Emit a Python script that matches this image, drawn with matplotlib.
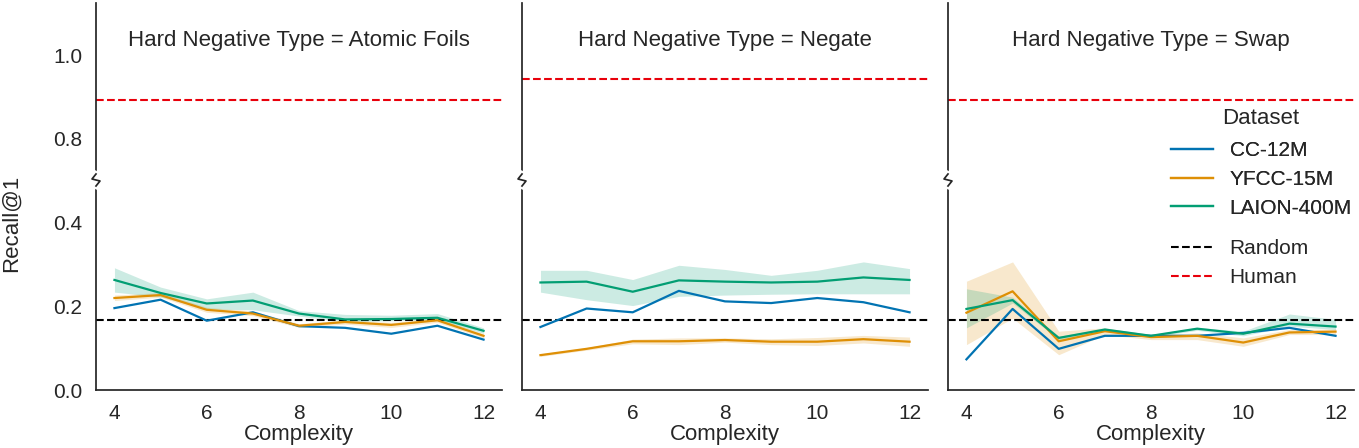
import matplotlib
matplotlib.use("Agg")
from matplotlib import pyplot as plt
from matplotlib.lines import Line2D

plt.rcParams['font.family'] = ['Liberation Sans', 'DejaVu Sans']
plt.rcParams['font.size'] = 15

complexity = [4, 5, 6, 7, 8, 9, 10, 11, 12]
panels = ["Atomic Foils", "Negate", "Swap"]
datasets = ["CC-12M", "YFCC-15M", "LAION-400M"]
colors = ["#0173b2", "#de8f05", "#029e73"]

# Atomic Foils
af_cc = [0.195, 0.215, 0.165, 0.185, 0.152, 0.148, 0.134, 0.153, 0.120]
af_yfcc = [0.219, 0.226, 0.191, 0.182, 0.153, 0.162, 0.155, 0.166, 0.129]
af_yfcc_lo = [0.213, 0.221, 0.185, 0.177, 0.149, 0.157, 0.149, 0.161, 0.124]
af_yfcc_hi = [0.226, 0.232, 0.197, 0.188, 0.158, 0.167, 0.161, 0.171, 0.134]
af_laion = [0.262, 0.231, 0.206, 0.213, 0.182, 0.168, 0.169, 0.172, 0.141]
af_laion_lo = [0.233, 0.222, 0.193, 0.191, 0.176, 0.163, 0.165, 0.167, 0.135]
af_laion_hi = [0.291, 0.245, 0.217, 0.233, 0.189, 0.180, 0.178, 0.182, 0.148]

# Negate
ng_cc = [0.150, 0.194, 0.185, 0.236, 0.211, 0.207, 0.219, 0.209, 0.185]
ng_yfcc = [0.083, 0.098, 0.116, 0.116, 0.119, 0.115, 0.115, 0.121, 0.115]
ng_yfcc_lo = [0.080, 0.095, 0.110, 0.108, 0.114, 0.108, 0.106, 0.112, 0.104]
ng_yfcc_hi = [0.086, 0.101, 0.121, 0.124, 0.124, 0.122, 0.125, 0.130, 0.126]
ng_laion = [0.256, 0.258, 0.234, 0.261, 0.258, 0.256, 0.258, 0.268, 0.262]
ng_laion_lo = [0.233, 0.215, 0.201, 0.223, 0.226, 0.228, 0.229, 0.229, 0.229]
ng_laion_hi = [0.285, 0.285, 0.263, 0.297, 0.287, 0.273, 0.285, 0.305, 0.289]

# Swap
sw_cc = [0.073, 0.193, 0.098, 0.129, 0.129, 0.129, 0.136, 0.148, 0.129]
sw_yfcc = [0.184, 0.235, 0.116, 0.140, 0.126, 0.129, 0.113, 0.137, 0.139]
sw_yfcc_lo = [0.108, 0.171, 0.084, 0.132, 0.120, 0.120, 0.104, 0.132, 0.132]
sw_yfcc_hi = [0.259, 0.305, 0.140, 0.148, 0.132, 0.136, 0.124, 0.144, 0.145]
sw_laion = [0.193, 0.214, 0.124, 0.144, 0.129, 0.146, 0.134, 0.158, 0.151]
sw_laion_lo = [0.148, 0.207, 0.120, 0.141, 0.126, 0.142, 0.129, 0.152, 0.144]
sw_laion_hi = [0.241, 0.221, 0.128, 0.147, 0.132, 0.149, 0.140, 0.181, 0.168]

human = [0.892, 0.942, 0.892]
random_chance = 1 / 6

lines = [
    [af_cc, af_yfcc, af_laion],
    [ng_cc, ng_yfcc, ng_laion],
    [sw_cc, sw_yfcc, sw_laion],
]
bands = [
    [None, (af_yfcc_lo, af_yfcc_hi), (af_laion_lo, af_laion_hi)],
    [None, (ng_yfcc_lo, ng_yfcc_hi), (ng_laion_lo, ng_laion_hi)],
    [None, (sw_yfcc_lo, sw_yfcc_hi), (sw_laion_lo, sw_laion_hi)],
]

W, H = 1359, 448
fig = plt.figure(figsize=(W / 100, H / 100), dpi=100)

lefts = [96, 522, 948]
width = 406
y_zero, y_break, y_top = 390, 180, 3
spine_col = "#262626"
human_col = "#e8000b"

for i, name in enumerate(panels):
    x0 = lefts[i] / W
    axl = fig.add_axes([x0, (H - y_zero) / H, width / W, (y_zero - y_break) / H])
    axu = fig.add_axes([x0, (H - y_break) / H, width / W, (y_break - y_top) / H])

    for ax in (axl, axu):
        ax.set_facecolor("none")
        ax.set_xlim(3.6, 12.4)
        ax.axhline(random_chance, color="black", ls="--", lw=1.5)
        ax.axhline(human[i], color=human_col, ls="--", lw=1.5)
        for j, d in enumerate(datasets):
            ax.plot(complexity, lines[i][j], color=colors[j], lw=1.6, label=d)
            if bands[i][j] is not None:
                lo, hi = bands[i][j]
                ax.fill_between(complexity, lo, hi, color=colors[j], alpha=0.2, lw=0)
        for s in ("top", "right"):
            ax.spines[s].set_visible(False)
        ax.spines["left"].set_color(spine_col)
        ax.spines["left"].set_linewidth(1.25)
        ax.tick_params(length=0, pad=10, labelsize=15, colors=spine_col)

    axl.set_ylim(0, 0.5)
    axu.set_ylim(0.7, 1.125)
    axl.set_yticks([0.0, 0.2, 0.4])
    axu.set_yticks([0.8, 1.0])
    axl.spines["bottom"].set_color(spine_col)
    axl.spines["bottom"].set_linewidth(1.25)
    axu.spines["bottom"].set_visible(False)
    axu.set_xticks([])
    axl.set_xticks([4, 6, 8, 10, 12])
    axl.set_xlabel("Complexity", fontsize=16, labelpad=1, color=spine_col)
    if i > 0:
        axl.set_yticklabels([])
        axu.set_yticklabels([])
    axu.text(0.5, 0.79, "Hard Negative Type = " + name, transform=axu.transAxes,
             ha="center", va="center", fontsize=16, color=spine_col)

    # small zig-zag on the spine where the axis breaks
    bx = lefts[i]
    px = [bx, bx - 4, bx + 4, bx]
    py = [y_break - 6, y_break - 1, y_break + 1, y_break + 6]
    fig.add_artist(Line2D([p / W for p in px], [(H - p) / H for p in py],
                          color="white", lw=4, transform=fig.transFigure))
    fig.add_artist(Line2D([p / W for p in px], [(H - p) / H for p in py],
                          color=spine_col, lw=1.25, transform=fig.transFigure))

fig.text(11 / W, (H - 223) / H, "Recall@1", rotation=90, ha="center", va="center",
         fontsize=16, color=spine_col)

fig.text(1261 / W, (H - 118) / H, "Dataset", ha="center", va="center",
         fontsize=16, color=spine_col)
ds_handles = [Line2D([], [], color=c, lw=1.6) for c in colors]
leg1 = fig.legend(ds_handles, datasets, loc="upper left",
                  bbox_to_anchor=(1163 / W, (H - 133) / H), frameon=False,
                  fontsize=15, labelspacing=0.46, borderaxespad=0)
ref_handles = [Line2D([], [], color="black", ls="--", lw=1.5),
               Line2D([], [], color=human_col, ls="--", lw=1.5)]
leg2 = fig.legend(ref_handles, ["Random", "Human"], loc="upper left",
                  bbox_to_anchor=(1163 / W, (H - 231) / H), frameon=False,
                  fontsize=15, labelspacing=0.46, borderaxespad=0)
fig.add_artist(leg1)
for leg in (leg1, leg2):
    for t in leg.get_texts():
        t.set_color(spine_col)

fig.savefig("out.png", dpi=100)
